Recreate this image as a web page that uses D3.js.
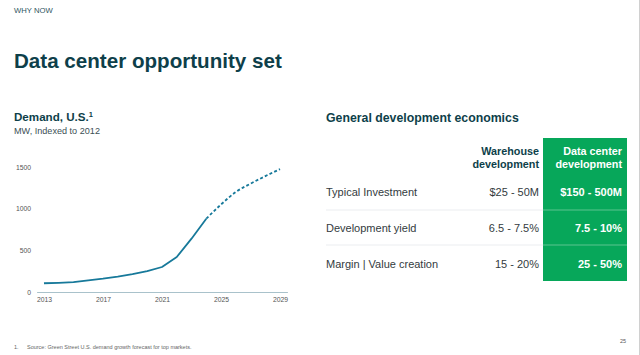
<!DOCTYPE html>
<html><head><meta charset="utf-8">
<script src="https://cdn.jsdelivr.net/npm/d3@7"></script>
<style>
html,body{margin:0;padding:0;background:#fff;}
svg{display:block;font-family:"Liberation Sans",Arial,sans-serif;}
</style></head>
<body>
<svg id="c" width="640" height="355"></svg>
<script>
// ---- data ----
const years = [2013,2014,2015,2016,2017,2018,2019,2020,2021,2022,2023,2024,2025,2026,2027,2028,2029];
const demand = [105,110,118,140,160,185,215,250,300,420,640,880,1050,1200,1300,1390,1475];
const lastActualYear = 2024;
const xTickYears = [2013,2017,2021,2025,2029];
const yTicks = [0,500,1000,1500];
const tableCols = [["Warehouse","development"],["Data center","development"]];
const rowLabels = ["Typical Investment","Development yield","Margin | Value creation"];
const warehouseVals = ["$25 - 50M","6.5 - 7.5%","15 - 20%"];
const dataCenterVals = ["$150 - 500M","7.5 - 10%","25 - 50%"];

const svg = d3.select("#c");
const dark = "#0e3f4a";
const teal = "#17799a";
const green = "#07a75a";

// right edge line
svg.append("line").attr("x1",639.5).attr("x2",639.5).attr("y1",0).attr("y2",355)
  .attr("stroke","#d0d0d0").attr("stroke-width",1);

// headings
svg.append("text").attr("x",14).attr("y",12.5).attr("font-size",7.7).attr("fill","#2e5560").text("WHY NOW");
svg.append("text").attr("x",14).attr("y",68).attr("font-size",20.6).attr("font-weight","bold").attr("fill",dark).text("Data center opportunity set");

const dt = svg.append("text").attr("x",14).attr("y",121).attr("font-size",11.6).attr("font-weight","bold").attr("fill",dark);
dt.append("tspan").text("Demand, U.S.");
dt.append("tspan").attr("font-size",7.5).attr("dy",-4.5).text("1");
svg.append("text").attr("x",14).attr("y",134).attr("font-size",9.1).attr("fill","#3c4f55").text("MW, Indexed to 2012");

// chart
const x = d3.scaleLinear().domain([2012.5,2029.5]).range([36.6,287.4]);
const y = d3.scaleLinear().domain([0,1500]).range([292,167]);

const xAxis = svg.append("g").attr("transform","translate(0,292)")
  .call(d3.axisBottom(x).tickValues(xTickYears).tickFormat(d3.format("d")).tickSize(0).tickPadding(5));
xAxis.select(".domain").attr("stroke","#a9c2cb").attr("stroke-width",1);
xAxis.selectAll("text").attr("font-size",6.8).attr("fill","#555").attr("font-family","Liberation Sans, Arial, sans-serif");

const yAxis = svg.append("g").attr("transform","translate(37,0)")
  .call(d3.axisLeft(y).tickValues(yTicks).tickFormat(d3.format("d")).tickSize(0).tickPadding(6));
yAxis.select(".domain").remove();
yAxis.selectAll("text").attr("font-size",6.8).attr("fill","#555").attr("font-family","Liberation Sans, Arial, sans-serif");

const pts = years.map((yr,i)=>({yr,v:demand[i]}));
const line = d3.line().x(d=>x(d.yr)).y(d=>y(d.v));
const dline = d3.line().x(d=>x(d.yr)).y(d=>y(d.v)).curve(d3.curveMonotoneX);
svg.append("path").datum(pts.filter(d=>d.yr<=lastActualYear)).attr("d",line)
  .attr("fill","none").attr("stroke",teal).attr("stroke-width",1.8).attr("stroke-linejoin","round");
svg.append("path").datum(pts.filter(d=>d.yr>=lastActualYear)).attr("d",dline)
  .attr("fill","none").attr("stroke",teal).attr("stroke-width",1.8).attr("stroke-dasharray","3,2.2");

// table
svg.append("text").attr("x",326).attr("y",122).attr("font-size",12.3).attr("font-weight","bold").attr("fill",dark)
  .text("General development economics");

const tLeft = 326, col1Right = 539, gLeft = 543, gRight = 627, col2Right = 622;

svg.append("rect").attr("x",gLeft).attr("y",138).attr("width",gRight-gLeft).attr("height",281-138).attr("fill",green);

// row separators
[210,245].forEach(yy=>{
  svg.append("line").attr("x1",tLeft).attr("x2",gLeft).attr("y1",yy).attr("y2",yy).attr("stroke","#ebedf0").attr("stroke-width",1);
  svg.append("line").attr("x1",gLeft).attr("x2",gRight).attr("y1",yy).attr("y2",yy).attr("stroke","#5cc48f").attr("stroke-width",1);
});

// headers
tableCols.forEach((lines,i)=>{
  const t = svg.append("text").attr("font-size",10.8).attr("font-weight","bold")
    .attr("text-anchor","end").attr("fill", i===0 ? dark : "#fff");
  lines.forEach((w,j)=>{
    t.append("tspan").attr("x", i===0 ? col1Right : col2Right).attr("y", 155 + j*12.6).text(w);
  });
});

const rowCenters = [192,228,264];
rowLabels.forEach((r,i)=>{
  svg.append("text").attr("x",tLeft).attr("y",rowCenters[i]+3.9).attr("font-size",11).attr("fill","#333b3e").text(r);
  svg.append("text").attr("x",col1Right).attr("y",rowCenters[i]+3.9).attr("font-size",11).attr("text-anchor","end").attr("fill","#333b3e").text(warehouseVals[i]);
  svg.append("text").attr("x",col2Right).attr("y",rowCenters[i]+3.9).attr("font-size",11).attr("font-weight","bold").attr("text-anchor","end").attr("fill","#fff").text(dataCenterVals[i]);
});

// footnote
svg.append("text").attr("x",14).attr("y",349).attr("font-size",5.5).attr("fill","#666").text("1.");
svg.append("text").attr("x",27).attr("y",349).attr("font-size",5.5).attr("fill","#666").text("Source: Green Street U.S. demand growth forecast for top markets.");
svg.append("text").attr("x",626).attr("y",343).attr("font-size",5.5).attr("text-anchor","end").attr("fill","#555").text("25");
</script>
</body></html>
